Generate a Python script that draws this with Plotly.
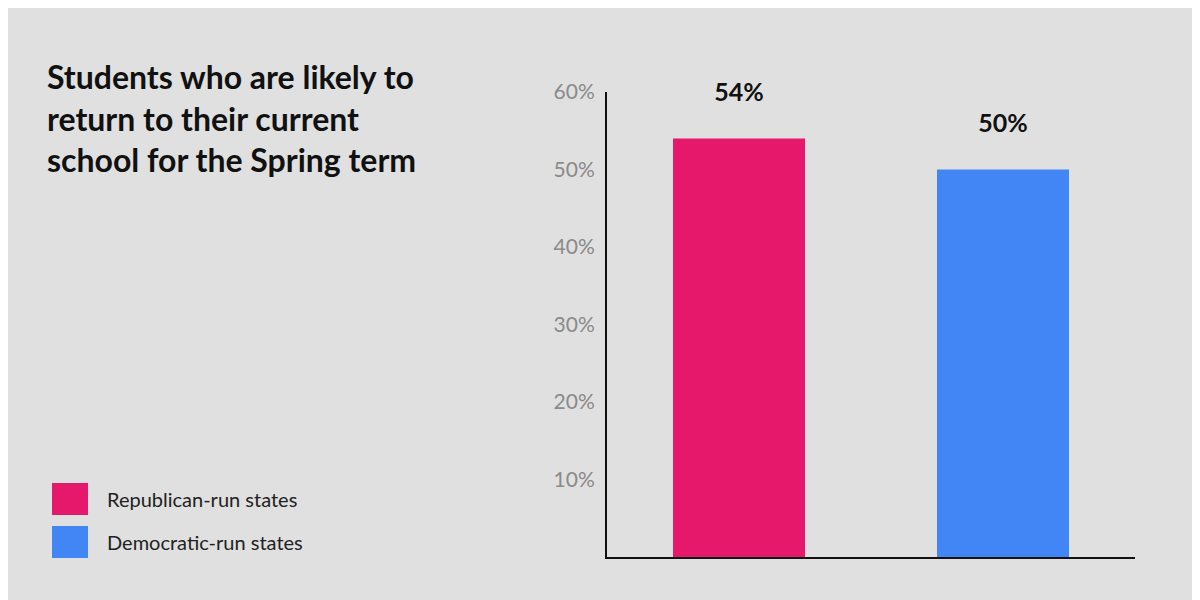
import plotly.graph_objects as go

categories = ["Republican-run states", "Democratic-run states"]
values = [54, 50]
colors = ["#e5186b", "#4285f4"]
tick_vals = [10, 20, 30, 40, 50, 60]
tick_text = ["10%", "20%", "30%", "40%", "50%", "60%"]
title = "Students who are likely to<br>return to their current<br>school for the Spring term"

FONT = "Lato, 'Source Sans Pro', sans-serif"
OFF = 8  # page body margin

fig = go.Figure(go.Bar(
    x=categories, y=values, marker_color=colors, marker_line_width=0,
    text=[f"<b>{v}%</b><br><span style='font-size:10px'> </span>" for v in values],
    textposition="outside",
    textfont=dict(size=25, color="#111", family=FONT), cliponaxis=False,
    showlegend=False, width=0.5,
))

W, H = 1200 - OFF, 600 - OFF
L, R, T, B = 607 - OFF, 65, 92 - OFF, 43
pw, ph = W - L - R, H - T - B
def px(x): return (x - OFF - L) / pw
def py(y): return (H - B - (y - OFF)) / ph

shapes = []
annotations = [dict(text=f"<b>{title}</b>", x=px(45), y=py(55), xref="paper", yref="paper",
                    xanchor="left", yanchor="top", showarrow=False, align="left",
                    font=dict(size=32, color="#111", family=FONT))]
for i, (c, col) in enumerate(zip(categories, colors)):
    y0 = 483 + i * 43
    shapes.append(dict(type="rect", xref="paper", yref="paper", x0=px(52), x1=px(88),
                       y0=py(y0 + 32), y1=py(y0), fillcolor=col, line_width=0))
    annotations.append(dict(text=c, x=px(105), y=py(y0 + 16), xref="paper", yref="paper",
                            xanchor="left", yanchor="middle", showarrow=False,
                            font=dict(size=20, color="#222", family=FONT)))

fig.update_layout(
    width=W, height=H, margin=dict(l=L, r=R, t=T, b=B),
    paper_bgcolor="#e0e0e0", plot_bgcolor="#e0e0e0",
    font=dict(family=FONT),
    xaxis=dict(showticklabels=False, showgrid=False, showline=True, linecolor="#111",
               linewidth=2, ticks="", zeroline=False),
    yaxis=dict(range=[0, 60], tickvals=tick_vals, ticktext=tick_text, showgrid=False,
               showline=True, linecolor="#111", linewidth=2, zeroline=False,
               tickfont=dict(size=21, color="#8a8a8a", family=FONT), ticks="", ticklabelstandoff=6),
    shapes=shapes, annotations=annotations, bargap=0.5,
)
fig.write_html("out.html")
